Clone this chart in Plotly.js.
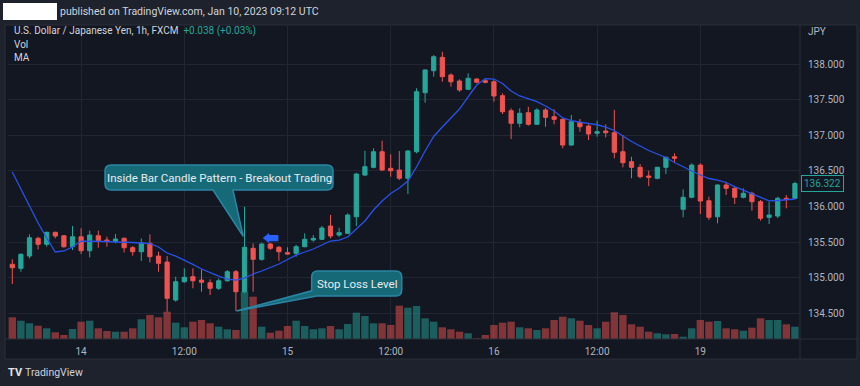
<!DOCTYPE html>
<html><head><meta charset="utf-8">
<script src="https://cdn.plot.ly/plotly-3.0.1.min.js"></script>
<style>html,body{margin:0;padding:0;background:#1e222d;}#chart{width:860px;height:386px;}</style>
</head><body><div id="chart"></div>
<script>
// ---- data (USD/JPY 1h, FXCM) ----
const tickIndex = [8, 20, 32, 44, 56, 68, 80];
const tickLabels = ['14', '12:00', '15', '12:00', '16', '12:00', '19'];

const openP = [
135.187,135.131,135.303,135.552,135.468,135.636,135.588,135.434,135.574,135.378,
135.588,135.528,135.510,135.552,135.420,135.364,135.482,135.303,135.219,134.685,
134.942,135.013,134.966,134.928,134.850,134.956,135.083,134.802,135.412,135.257,
135.472,135.426,135.350,135.341,135.434,135.528,135.538,135.725,135.598,135.622,
135.855,136.441,136.549,136.768,136.535,136.511,136.395,136.768,137.597,137.906,
138.094,137.846,137.761,137.645,137.789,137.765,137.751,137.555,137.344,137.167,
137.316,137.153,137.354,137.260,137.223,136.862,137.181,137.129,137.027,137.059,
137.035,136.768,136.628,136.549,136.427,136.395,136.549,136.698,135.959,136.128,
136.581,136.080,135.855,136.301,136.254,136.128,136.184,136.066,135.847,135.865,
136.114,136.114];
const highP = [
135.257,135.341,135.608,135.574,135.645,135.645,135.598,135.725,135.692,135.659,
135.659,135.574,135.612,135.566,135.444,135.552,135.608,135.364,135.303,135.013,
135.131,135.131,135.117,134.976,134.990,135.107,135.107,135.996,135.482,135.490,
135.490,135.444,135.426,135.458,135.622,135.598,135.725,135.879,135.701,135.903,
136.473,136.782,136.816,136.923,136.732,136.778,136.792,137.659,137.926,138.126,
138.173,137.869,137.785,137.869,137.799,137.785,137.775,137.588,137.378,137.378,
137.400,137.378,137.378,137.364,137.237,137.284,137.228,137.153,137.204,137.153,
137.354,137.003,136.698,136.596,136.501,136.558,136.698,136.746,136.240,136.605,
136.605,136.136,136.311,136.347,136.277,136.254,136.206,136.090,136.066,136.136,
136.160,136.347];
const lowP = [
134.910,135.083,135.271,135.397,135.434,135.552,135.420,135.388,135.331,135.285,
135.420,135.434,135.482,135.355,135.308,135.233,135.215,135.083,134.521,134.662,
134.928,134.850,134.802,134.756,134.826,134.942,134.531,134.780,134.802,135.237,
135.388,135.237,135.324,135.294,135.426,135.504,135.528,135.552,135.574,135.612,
135.725,136.427,136.535,136.501,136.417,136.371,136.174,136.746,137.456,137.822,
137.751,137.681,137.611,137.635,137.729,137.729,137.471,137.298,136.947,137.111,
137.133,137.143,137.119,137.153,136.816,136.852,137.049,136.933,136.979,136.970,
136.676,136.549,136.395,136.395,136.287,136.381,136.455,136.614,135.847,136.114,
135.893,135.809,135.763,136.160,136.034,136.114,135.940,135.799,135.753,135.837,
135.973,136.100];
const closeP = [
135.139,135.327,135.560,135.468,135.636,135.584,135.434,135.574,135.378,135.598,
135.518,135.510,135.542,135.420,135.364,135.490,135.294,135.201,134.709,134.942,
135.004,134.956,134.934,134.850,134.956,135.083,134.802,135.426,135.257,135.472,
135.412,135.364,135.331,135.434,135.538,135.552,135.697,135.584,135.631,135.879,
136.455,136.558,136.768,136.511,136.501,136.395,136.778,137.611,137.916,138.103,
137.822,137.751,137.635,137.799,137.743,137.743,137.551,137.330,137.167,137.308,
137.153,137.354,137.251,137.223,136.862,137.190,137.119,137.017,137.049,137.035,
136.760,136.614,136.549,136.417,136.409,136.549,136.690,136.676,136.128,136.581,
136.076,135.847,136.301,136.254,136.128,136.184,136.066,135.833,135.879,136.114,
136.097,136.322];
const maP = [
136.483,136.244,136.006,135.767,135.556,135.360,135.374,135.430,135.514,135.514,
135.514,135.507,135.500,135.500,135.493,135.486,135.479,135.430,135.346,135.303,
135.247,135.185,135.121,135.069,135.020,134.980,134.966,134.994,135.051,135.093,
135.142,135.191,135.254,135.317,135.360,135.402,135.458,135.514,135.528,135.570,
135.683,135.795,135.949,136.076,136.181,136.258,136.357,136.553,136.778,136.982,
137.115,137.242,137.368,137.537,137.705,137.796,137.789,137.726,137.621,137.551,
137.511,137.471,137.410,137.340,137.242,137.206,137.185,137.171,137.147,137.115,
137.066,136.989,136.912,136.848,136.785,136.736,136.687,136.617,136.553,136.497,
136.441,136.392,136.371,136.336,136.279,136.230,136.188,136.132,136.079,136.083,
136.097,136.104];
const volume = [
2170,1830,1570,1330,1070,670,400,1000,1730,1830,
1070,800,730,730,1070,1970,2400,2170,2730,1630,
1170,1730,1900,1570,1230,970,900,4730,4230,1230,
630,830,1300,1830,1300,970,1070,1300,970,1500,
2630,2300,1570,1570,1400,3330,3130,3300,2070,1730,
1170,970,730,570,70,400,1400,1630,1730,1170,
1070,900,1070,1900,2230,2070,1830,1400,1070,1730,
2670,2400,1470,1230,730,570,470,500,230,1070,
1900,1730,1800,1070,970,830,1130,2070,1900,1900,
1470,1230];
const priceTicks = [134.5, 135.0, 135.5, 136.0, 136.5, 137.0, 137.5, 138.0];

// ---- styling / layout ----
const UP = '#26a69a', DOWN = '#ef5350';
const UPV = 'rgba(38,166,154,0.5)', DOWNV = 'rgba(239,83,80,0.5)';
const BG = '#131722', OUTER = '#1e222d', GRID = '#222632', BORDER = '#2a2e39';
const TXT = '#d1d4dc', AX = '#b2b5be';
const FONT = 'Roboto, "Liberation Sans", Arial, sans-serif';
const L = 8, R = 60, T = 25, B = 47, W = 860, H = 386;
const plotW = W - L - R, plotH = H - T - B;
const PX = px => (px - L) / plotW;
const PY = py => (T + plotH - py) / plotH;

const idx = closeP.map((_, i) => i);
const last = closeP.length - 1;
const volColors = closeP.map((c, i) => c >= openP[i] ? UPV : DOWNV);

const traces = [
  {type: 'bar', x: idx, y: volume, xaxis: 'x', yaxis: 'y', width: 0.86,
   marker: {color: volColors, line: {width: 0}}, hoverinfo: 'skip'},
  {type: 'candlestick', x: idx, open: openP, high: highP, low: lowP, close: closeP,
   xaxis: 'x', yaxis: 'y2', whiskerwidth: 0,
   increasing: {line: {color: UP, width: 1}, fillcolor: UP},
   decreasing: {line: {color: DOWN, width: 1}, fillcolor: DOWN}, hoverinfo: 'skip'},
  {type: 'scatter', mode: 'lines', x: idx, y: maP, xaxis: 'x', yaxis: 'y2',
   line: {color: '#2a52e8', width: 1.3}, hoverinfo: 'skip'}
];

// callout geometry (data coords: x = candle index, y = price)
function callout(x0, x1, yT, yB, rx, ry, pointer) {
  let p = `M${x0+rx},${yT} L${x1-rx},${yT} Q${x1},${yT} ${x1},${yT-ry} L${x1},${yB+ry} Q${x1},${yB} ${x1-rx},${yB} `;
  p += pointer;
  return p + ' Z';
}
const RX = 0.7, RY = 0.084;
// Inside bar callout
const ib = {x0: 10.78, x1: 37.29, yT: 136.581, yB: 136.230, tipX: 27 - 0.15, tipY: 135.58};
const ibPath = callout(ib.x0, ib.x1, ib.yT, ib.yB, RX, RY,
  `L25.66,${ib.yB} L${ib.tipX},${ib.tipY} L23.34,${ib.yB} L${ib.x0+RX},${ib.yB} Q${ib.x0},${ib.yB} ${ib.x0},${ib.yB+RY} L${ib.x0},${ib.yT-RY} Q${ib.x0},${ib.yT} ${ib.x0+RX},${ib.yT}`);
// Stop loss callout
const sl = {x0: 34.81, x1: 45.28, yT: 135.093, yB: 134.742, tipX: 26.05, tipY: lowP[26]};
const slPath = callout(sl.x0, sl.x1, sl.yT, sl.yB, RX, RY,
  `L35.40,${sl.yB} L${sl.tipX},${sl.tipY} L${sl.x0},134.815 L${sl.x0},${sl.yT-RY} Q${sl.x0},${sl.yT} ${sl.x0+RX},${sl.yT}`);
// blue arrow
const arrowPath = 'M29.12,135.556 L29.85,135.626 L29.85,135.600 L30.93,135.600 L30.93,135.512 L29.85,135.512 L29.85,135.486 Z';

const CALL_FILL = '#166a78', CALL_LINE = '#2b86a6';

const shapes = [
  // chart pane background and frame
  {type: 'rect', xref: 'paper', yref: 'paper', x0: PX(5), x1: PX(857), y0: PY(359), y1: PY(25),
   fillcolor: BG, line: {color: BORDER, width: 1}, layer: 'below'},
  {type: 'line', xref: 'paper', yref: 'paper', x0: 1, x1: 1, y0: PY(359), y1: PY(25),
   line: {color: BORDER, width: 1}, layer: 'above'},
  {type: 'line', xref: 'paper', yref: 'paper', x0: PX(5), x1: PX(857), y0: 0, y1: 0,
   line: {color: BORDER, width: 1}, layer: 'above'},
  // redaction box
  {type: 'rect', xref: 'paper', yref: 'paper', x0: PX(3), x1: PX(57), y0: PY(20), y1: PY(3),
   fillcolor: '#ffffff', line: {width: 0}, layer: 'above'},
  // callouts
  {type: 'path', xref: 'x', yref: 'y2', path: ibPath, fillcolor: CALL_FILL, line: {color: CALL_LINE, width: 1.5}, layer: 'above'},
  {type: 'path', xref: 'x', yref: 'y2', path: slPath, fillcolor: CALL_FILL, line: {color: CALL_LINE, width: 1.5}, layer: 'above'},
  {type: 'path', xref: 'x', yref: 'y2', path: arrowPath, fillcolor: '#2962ff', line: {width: 0}, layer: 'above'}
];

const ann = (text, x, y, opts = {}) => Object.assign({
  text, x, y, xref: 'paper', yref: 'paper', xanchor: 'left', yanchor: 'middle',
  showarrow: false, font: {family: FONT, size: 10, color: TXT}}, opts);

const annotations = [
  ann('published on TradingView.com, Jan 10, 2023 09:12 UTC', PX(58), PY(12), {font: {family: FONT, size: 10.5, color: TXT}}),
  ann('U.S. Dollar / Japanese Yen, 1h, FXCM  <span style="color:#26a69a">+0.038 (+0.03%)</span>', PX(12), PY(31)),
  ann('Vol', PX(12), PY(44.5)),
  ann('MA', PX(12), PY(58)),
  ann('JPY', PX(806), PY(31), {font: {family: FONT, size: 10, color: AX}}),
  ann('<b>TV</b>', PX(6), PY(372), {font: {family: FONT, size: 11, color: '#e0e3eb'}}),
  ann('TradingView', PX(23), PY(372), {font: {family: FONT, size: 10.5, color: TXT}}),
  {text: closeP[last].toFixed(3), x: 1, y: closeP[last], xref: 'paper', yref: 'y2',
   xanchor: 'left', yanchor: 'middle', xshift: 1, showarrow: false,
   font: {family: FONT, size: 10, color: UP}, bgcolor: BG, bordercolor: UP, borderwidth: 1, borderpad: 2},
  {text: 'Inside Bar Candle Pattern - Breakout Trading', x: (ib.x0 + ib.x1) / 2, y: (ib.yT + ib.yB) / 2,
   xref: 'x', yref: 'y2', showarrow: false, font: {family: FONT, size: 11.5, color: '#e8eaed'}},
  {text: 'Stop Loss Level', x: (sl.x0 + sl.x1) / 2, y: (sl.yT + sl.yB) / 2,
   xref: 'x', yref: 'y2', showarrow: false, font: {family: FONT, size: 11.5, color: '#e8eaed'}}
];

const layout = {
  width: W, height: H, margin: {l: L, r: R, t: T, b: B, pad: 0},
  paper_bgcolor: OUTER, plot_bgcolor: 'rgba(0,0,0,0)',
  showlegend: false, hovermode: false, dragmode: false,
  boxgap: 0.3,
  xaxis: {range: [-0.5, 91.59], tickvals: tickIndex, ticktext: tickLabels,
    showgrid: true, gridcolor: GRID, gridwidth: 1, zeroline: false, showline: false, ticks: '',
    tickfont: {family: FONT, size: 10, color: AX}, ticklabelstandoff: 5,
    rangeslider: {visible: false}, fixedrange: true},
  yaxis: {range: [0, 31400], visible: false, showgrid: false, zeroline: false, fixedrange: true},
  yaxis2: {range: [134.138, 138.548], overlaying: 'y', side: 'right', anchor: 'x',
    tickvals: priceTicks, tickformat: '.3f', showgrid: true, gridcolor: GRID, gridwidth: 1,
    zeroline: false, showline: false, ticks: '', ticklabelstandoff: 7,
    tickfont: {family: FONT, size: 10, color: AX}, fixedrange: true},
  shapes, annotations
};

Plotly.newPlot('chart', traces, layout, {staticPlot: true, displayModeBar: false});
</script>
</body></html>
